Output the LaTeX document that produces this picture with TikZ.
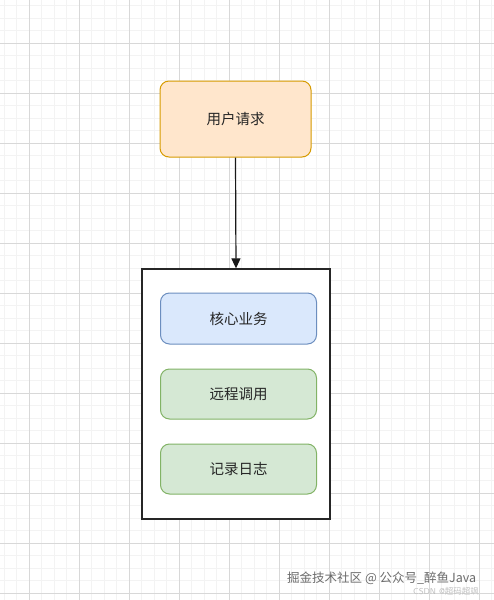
\documentclass[tikz,border=0pt]{standalone}
\usepackage{fontspec}
\newfontfamily\cjk{Noto Sans CJK SC}
\usetikzlibrary{arrows.meta}
\definecolor{gridminor}{HTML}{F3F3F3}
\definecolor{gridmajor}{HTML}{D8D8D8}
\definecolor{orfill}{HTML}{FFE6CC}
\definecolor{ordraw}{HTML}{D79B00}
\definecolor{blfill}{HTML}{DAE8FC}
\definecolor{bldraw}{HTML}{6C8EBF}
\definecolor{grfill}{HTML}{D5E8D4}
\definecolor{grdraw}{HTML}{82B366}
\tikzset{
  box/.style={rounded corners=9pt, line width=1pt, inner sep=0pt, font=\cjk\fontsize{14.5}{17}\selectfont, text=black!85},
  orbox/.style={box, fill=orfill, draw=ordraw, minimum width=151pt, minimum height=76pt},
  blbox/.style={box, fill=blfill, draw=bldraw, minimum width=156pt, minimum height=51pt},
  grbox/.style={box, fill=grfill, draw=grdraw, minimum width=156pt, minimum height=50pt},
  container/.style={draw=black!85, fill=white, line width=1.3pt, minimum width=188pt, minimum height=250pt, inner sep=0pt},
  conn/.style={line width=1.2pt, draw=black!90, -{Triangle[length=10pt,width=9pt]}},
  wm/.style={font=\cjk\fontsize{12.5}{14}\selectfont, text=black!58, inner sep=0pt}
}
\begin{document}
\begin{tikzpicture}[x=1pt,y=-1pt]
\useasboundingbox (0,0) rectangle (494,600);
\fill[white] (0,0) rectangle (494,600);
% grid
\foreach \i in {0,...,40} {
  \draw[gridminor, line width=0.8pt] ({4.3+12.5*\i},0) -- ({4.3+12.5*\i},600);
}
\foreach \i in {0,...,48} {
  \draw[gridminor, line width=0.8pt] (0,{5.8+12.5*\i}) -- (494,{5.8+12.5*\i});
}
\foreach \i in {0,...,9} {
  \draw[gridmajor, line width=0.8pt] ({29.3+50*\i},0) -- ({29.3+50*\i},600);
}
\foreach \i in {0,...,11} {
  \draw[gridmajor, line width=0.8pt] (0,{43.3+50*\i}) -- (494,{43.3+50*\i});
}
% nodes
\node[orbox] (req) at (235.5,119) {用户请求};
\node[container] (cont) at (236,394) {};
\node[blbox] (core) at (238.5,318.5) {核心业务};
\node[grbox] (remote) at (238.5,394) {远程调用};
\node[grbox] (log) at (238.5,469) {记录日志};
\draw[conn] (req.south) -- (cont.north);
% watermark
\node[wm, anchor=west] (wm1) at (287,578) {掘金技术社区 @ 公众号\_醉鱼Java};
\node[font=\sffamily\fontsize{8.5}{10}\selectfont, text=black!25, inner sep=0pt, anchor=west] (wm2) at (413,591) {CSDN @\cjk 超码超飒};
\end{tikzpicture}
\end{document}
